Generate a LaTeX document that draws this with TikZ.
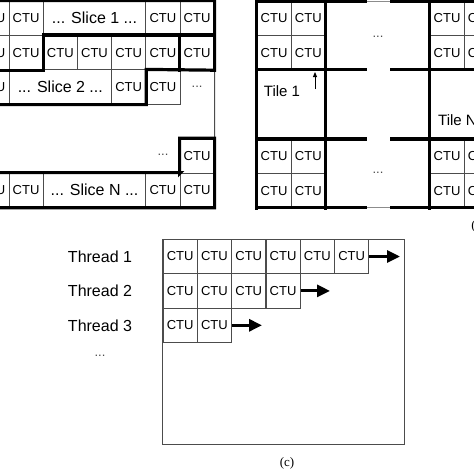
\documentclass[tikz,border=0pt]{standalone}
\usepackage{fontspec}
\setmainfont{Liberation Sans}
\newfontfamily\capfont{Liberation Serif}
\usetikzlibrary{arrows.meta}

\begin{document}
\begin{tikzpicture}[x=1pt, y=-1pt,
  ctu/.style={draw=black!70, line width=0.8pt, minimum width=34.2pt, minimum height=34.4pt, inner sep=0pt, font=\fontsize{13}{13}\selectfont},
  slicebox/.style={ctu, minimum width=102.6pt, font=\fontsize{16}{16}\selectfont},
  txt/.style={font=\fontsize{16}{16}\selectfont, inner sep=0pt},
  ellip/.style={font=\fontsize{13}{13}\selectfont, inner sep=0pt, text=black!70},
  thinline/.style={draw=black!70, line width=0.8pt},
  thickline/.style={line width=3.2pt, line cap=rect},
  flow/.style={line width=3pt, -{Triangle[length=13pt,width=12pt]}}]
\useasboundingbox (0,0) rectangle (474,474);
\clip (0,0) rectangle (474,474);
\fill[white] (0,0) rectangle (474,474);
% (a) slices
\foreach \c in {0,1,5,6} \node[ctu] (a0\c) at ({-8.1+34.2*\c},18.2) {CTU};
\node[slicebox] (slice1) at (94.5,18.2) {... Slice 1 ...};
\foreach \c in {0,...,6} \node[ctu] (a1\c) at ({-8.1+34.2*\c},52.6) {CTU};
\foreach \c in {0,4,5} \node[ctu] (a2\c) at ({-8.1+34.2*\c},87) {CTU};
\node[slicebox] (slice2) at (60.3,87) {... Slice 2 ...};
\node[ellip] (a26) at (197.1,87) {...};
\node[ellip] (a45) at (163,155) {...};
\node[ctu] (a46) at (197.1,155.8) {CTU};
\foreach \c in {0,1,5,6} \node[ctu] (a5\c) at ({-8.1+34.2*\c},190.2) {CTU};
\node[slicebox] (sliceN) at (94.5,190.2) {... Slice N ...};
\draw[thinline] (a16.south east) -- (a46.north east);
\draw[thickline] (a20.south west) -- (a24.south east) -- (a24.north east) -- (a16.south east) -- (a06.north east) -- (a00.north west);
\draw[thickline] (a10.south west) -- (a11.south east) -- (a11.north east) -- (a16.north east);
\draw[thickline] (a16.north west) -- (a16.south west);
\draw[thickline] (a50.north west) -- (a55.north east) -- (a46.south west) -- (a46.north west) -- (a46.north east) -- (a56.south east) -- (a50.south west);
% (b) tiles
\foreach \r/\y in {1/18.2,2/52.6}
  \foreach \c/\x in {1/274.1,2/308.3} {
    \node[ctu] (tA\r\c) at (\x,\y) {CTU};
    \node[ctu] (tB\r\c) at (\x+173,\y) {CTU};
    \node[ctu] (tC\r\c) at (\x,\y+138) {CTU};
    \node[ctu] (tD\r\c) at (\x+173,\y+138) {CTU};
  }
\draw[thinline, draw=black!45] (365,1) -- (392,1) (365,207.8) -- (392,207.8);
\foreach \y in {1,69.8,139,207.8} {
  \draw[thickline] (257,\y) -- (365,\y);
  \draw[thickline] (392,\y) -- (480,\y);
}
\draw[thickline] (tA11.north west) -- (tC21.south west);
\draw[thickline] (tA12.north east) -- (tC22.south east);
\draw[thickline] (tB11.north west) -- (tD21.south west);
\node[ellip] (tdots1) at (378,37) {...};
\node[ellip] (tdots2) at (378,173) {...};
\node[txt, font=\fontsize{15}{15}\selectfont] (tile1) at (282,91) {Tile 1};
\node[txt, font=\fontsize{15}{15}\selectfont, anchor=west] (tileN) at (438,120) {Tile N};
\coordinate (t1arr) at (315,89);
\draw[line width=0.9pt, -{Triangle[length=5pt,width=4pt]}, shorten >=1.8pt] (t1arr) -- (t1arr |- tA22.south);
\node[font=\capfont\fontsize{13}{13}\selectfont] (capb) at (479,226) {(b)};
% (c) threads
\foreach \c in {0,...,5} \node[ctu] (c1\c) at ({180.15+34.3*\c},256.5) {CTU};
\foreach \c in {0,...,3} \node[ctu] (c2\c) at ({180.15+34.3*\c},290.9) {CTU};
\foreach \c in {0,1} \node[ctu] (c3\c) at ({180.15+34.3*\c},325.3) {CTU};
\draw[thinline] (c10.north west) rectangle (404,444);
\coordinate (go1) at (400,256.5);
\coordinate (go2) at (330,290.9);
\coordinate (go3) at (262,325.3);
\draw[flow] (c15.east) -- (go1);
\draw[flow] (c23.east) -- (go2);
\draw[flow] (c31.east) -- (go3);
\node[txt] (th1) at (100,256.5) {Thread 1};
\node[txt] (th2) at (100,290.9) {Thread 2};
\node[txt] (th3) at (100,325.3) {Thread 3};
\node[ellip] (thdots) at (100,356) {...};
\node[font=\capfont\fontsize{13}{13}\selectfont] (capc) at (287,463) {(c)};
\end{tikzpicture}
\end{document}
